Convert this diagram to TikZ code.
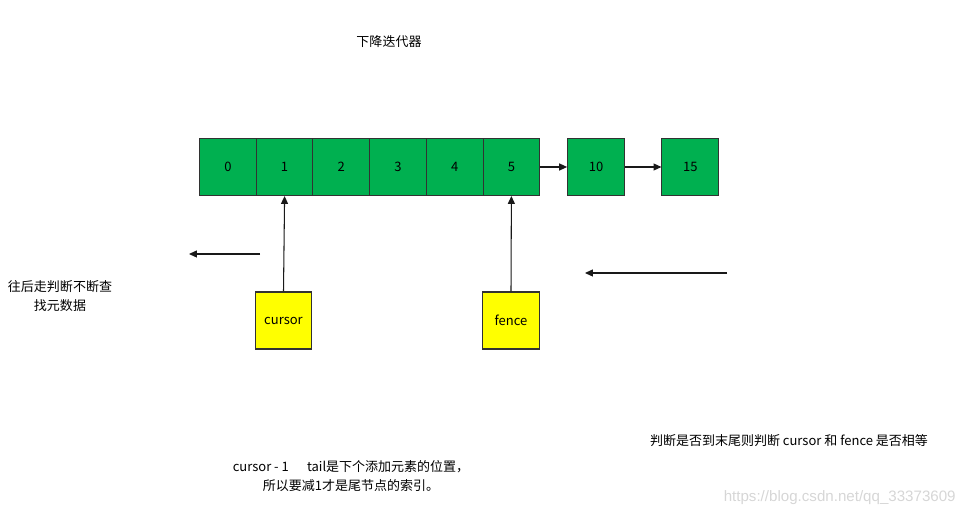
\documentclass[tikz,border=0pt]{standalone}
\usepackage{fontspec}
\setmainfont{Noto Sans CJK SC}
\newfontfamily\wmfont{Liberation Sans}
\usetikzlibrary{arrows.meta,positioning}
\definecolor{cellgreen}{RGB}{0,176,80}
\definecolor{ptryellow}{RGB}{255,255,0}
\definecolor{edgegray}{RGB}{50,50,50}
\tikzset{
  cell/.style={draw=edgegray,line width=0.6pt,minimum width=1.134cm,minimum height=1.14cm,fill=cellgreen,inner sep=0pt},
  ptr/.style={draw=edgegray,line width=0.6pt,minimum width=1.13cm,minimum height=1.14cm,fill=ptryellow,inner sep=0pt},
  note/.style={align=center,inner sep=0pt},
  link/.style={->,line width=0.6pt,black!90}
}
\begin{document}
\begin{tikzpicture}[x=0.02cm,y=-0.02cm,>={Triangle[length=4.5pt,width=4pt]},font=\fontsize{7.4}{10.4}\selectfont]
\useasboundingbox (0,0) rectangle (965,516);
\node[note] (title) at (389,42) {下降迭代器};
% array cells
\node[cell] (c0) at (227.9,167) {0};
\node[cell] (c1) at (284.6,167) {1};
\node[cell] (c2) at (341.3,167) {2};
\node[cell] (c3) at (398.0,167) {3};
\node[cell] (c4) at (454.7,167) {4};
\node[cell] (c5) at (511.4,167) {5};
\node[cell] (c10) at (596,167) {10};
\node[cell] (c15) at (690.3,167) {15};
\draw[link] (c5.east) -- (c10.west);
\draw[link] (c10.east) -- (c15.west);
% pointers
\node[ptr] (cursor) at (283.5,320.5) {cursor};
\node[ptr] (fence) at (511,320.5) {fence};
\draw[link] (cursor.north) -- (c1.south);
\draw[link] (fence.north) -- (c5.south);
% direction arrows
\coordinate (lfrom) at (260,254);
\coordinate (lto) at (189,254);
\draw[link] (lfrom) -- (lto);
\coordinate (rfrom) at (727,273);
\coordinate (rto) at (585,273);
\draw[link] (rfrom) -- (rto);
% notes
\node[note] (back) at (60,296) {往后走判断不断查\\找元数据};
\node[note] (judge) at (789,441) {判断是否到末尾则判断 cursor 和 fence 是否相等};
\node[note] (tail) at (351,476) {cursor - 1\hspace{1.4em}tail是下个添加元素的位置，\\所以要减1才是尾节点的索引。};
\node[font=\wmfont\fontsize{8.6}{10}\selectfont,text=black!16,anchor=east,inner sep=0pt] (wm) at (956,498) {https://blog.csdn.net/qq\_33373609};
\end{tikzpicture}
\end{document}
